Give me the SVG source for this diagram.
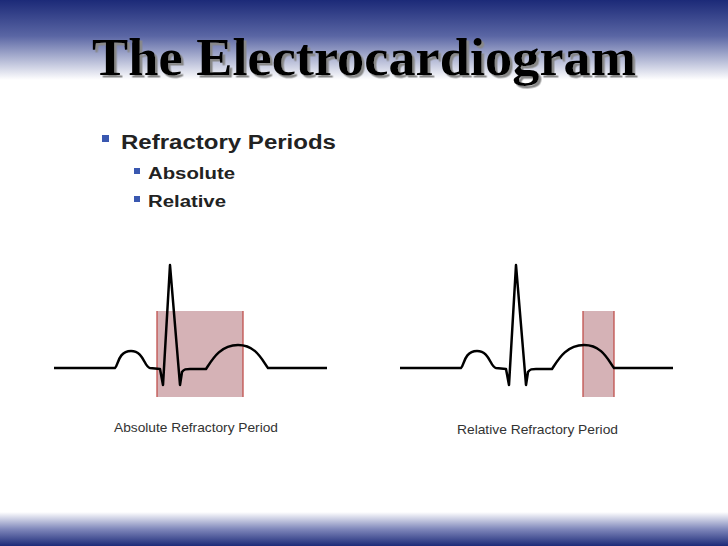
<svg xmlns="http://www.w3.org/2000/svg" width="728" height="546" viewBox="0 0 728 546">
<defs>
<linearGradient id="top" x1="0" y1="0" x2="0" y2="1"><stop offset="0" stop-color="#1c2a78"/><stop offset="0.45" stop-color="#5a66a4"/><stop offset="1" stop-color="#ffffff"/></linearGradient>
<linearGradient id="bot" x1="0" y1="0" x2="0" y2="1"><stop offset="0" stop-color="#ffffff"/><stop offset="0.5" stop-color="#8088bb"/><stop offset="1" stop-color="#1c2a78"/></linearGradient>
<filter id="sh" x="-5%" y="-20%" width="110%" height="140%"><feDropShadow dx="2.5" dy="2.5" stdDeviation="0.6" flood-color="#888"/></filter>
<path id="ecg" d="M54,368 L115,368 C118,366 118,351 131,351 C144,351 144,367 150,368 L160,369 L163,385 L170,265 L180,385 L182,372 C184,369 186,369 190,369 L206,369 C212,360 220,345 238,345 C256,345 262,360 268,368 L327,368"/>
</defs>
<style>
.ecg{fill:none;stroke:#000;stroke-width:2.5;stroke-linejoin:round}
.box{fill:#d5b2b6}
.edge{stroke:#c0504d;stroke-width:1.3}
.cap{font-family:"Liberation Sans",Arial,sans-serif;font-size:13px;fill:#333}
.b1{font-family:"Liberation Sans",Arial,sans-serif;font-weight:bold;fill:#222}
.bul{fill:#3a58b0}
</style>
<rect width="728" height="546" fill="#fff"/>
<rect width="728" height="80" fill="url(#top)"/>
<rect y="512" width="728" height="34" fill="url(#bot)"/>
<g id="title">
<text x="92" y="75" textLength="544" lengthAdjust="spacingAndGlyphs" font-family="Liberation Serif,serif" font-weight="bold" font-size="53" fill="#000" filter="url(#sh)">The Electrocardiogram</text>
</g>
<g id="bullets">
<rect class="bul" x="102" y="135" width="7" height="7"/>
<text class="b1" x="121" y="149" font-size="20" textLength="215" lengthAdjust="spacingAndGlyphs">Refractory Periods</text>
<rect class="bul" x="134" y="168" width="6" height="6"/>
<text class="b1" x="148" y="179" font-size="16" textLength="87" lengthAdjust="spacingAndGlyphs">Absolute</text>
<rect class="bul" x="134" y="196" width="6" height="6"/>
<text class="b1" x="148" y="207" font-size="16" textLength="78" lengthAdjust="spacingAndGlyphs">Relative</text>
</g>
<g id="absolute">
<rect class="box" x="157" y="311" width="86" height="86"/>
<line class="edge" x1="157" y1="311" x2="157" y2="397"/>
<line class="edge" x1="243" y1="311" x2="243" y2="397"/>
<use href="#ecg" class="ecg"/>
<text class="cap" x="114" y="432" textLength="164" lengthAdjust="spacingAndGlyphs">Absolute Refractory Period</text>
</g>
<g id="relative">
<rect class="box" x="583" y="311" width="31" height="86"/>
<line class="edge" x1="583" y1="311" x2="583" y2="397"/>
<line class="edge" x1="614" y1="311" x2="614" y2="397"/>
<use href="#ecg" class="ecg" transform="translate(346,0)"/>
<text class="cap" x="457" y="434" textLength="161" lengthAdjust="spacingAndGlyphs">Relative Refractory Period</text>
</g>
<g id="connectors"/>
</svg>
